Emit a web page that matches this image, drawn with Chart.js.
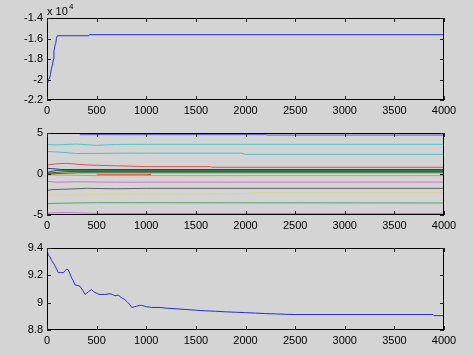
<!DOCTYPE html>
<html>
<head>
<meta charset="utf-8">
<script src="https://cdn.jsdelivr.net/npm/chart.js@4.4.1/dist/chart.umd.min.js"></script>
<style>
html,body{margin:0;padding:0;background:#d4d4d4;width:474px;height:356px;overflow:hidden;}
.box{position:absolute;left:0;width:474px;height:115px;}
</style>
</head>
<body>
<div class="box" style="top:0"><canvas id="c1" width="474" height="115"></canvas></div>
<div class="box" style="top:115px"><canvas id="c2" width="474" height="115"></canvas></div>
<div class="box" style="top:230px"><canvas id="c3" width="474" height="115"></canvas></div>
<script>
// ---- data ----
const xTicks = [0,500,1000,1500,2000,2500,3000,3500,4000];
const p1Ticks = [-2.2,-2.0,-1.8,-1.6,-1.4];
const p2Ticks = [-5,0,5];
const p3Ticks = [8.8,9.0,9.2,9.4];

const p1X = [0,10,25,35,45,55,65,70,80,88,95,105,420,425,4000];
const p1Y = [-2.03,-2.0,-1.99,-1.95,-1.89,-1.86,-1.80,-1.72,-1.67,-1.65,-1.60,-1.573,-1.573,-1.563,-1.563];

const p3X = [0,5,13,30,45,63,80,97,114,140,164,185,198,215,232,249,265,282,310,333,360,383,400,417,435,450,470,484,510,534,580,635,660,685,719,753,780,803,830,854,880,904,930,954,980,1004,1030,1055,1139,1200,1300,1400,1500,1600,1700,1800,1900,2000,2100,2200,2300,2400,2500,3890,3900,4000];
const p3Y = [9.38,9.37,9.35,9.335,9.31,9.29,9.27,9.245,9.22,9.22,9.22,9.235,9.245,9.24,9.21,9.18,9.16,9.13,9.125,9.12,9.09,9.06,9.07,9.08,9.09,9.095,9.08,9.075,9.065,9.06,9.06,9.065,9.06,9.05,9.055,9.035,9.025,9.01,8.99,8.965,8.97,8.975,8.98,8.98,8.975,8.97,8.968,8.965,8.965,8.96,8.955,8.95,8.945,8.94,8.937,8.933,8.93,8.927,8.924,8.92,8.918,8.915,8.913,8.913,8.905,8.905];

// middle panel series: [x, y] pairs
const sNavy    = [[0,4.98],[330,4.98]];
const sBlue    = [[330,4.8],[2200,4.8],[2220,4.75],[4000,4.75]];
const sCyan1   = [[0,3.6],[100,3.55],[300,3.65],[500,3.5],[700,3.6],[1000,3.62],[4000,3.62]];
const sCyan2   = [[0,2.75],[150,2.65],[300,2.5],[1000,2.55],[1950,2.55],[2000,2.4],[4000,2.4]];
const sRed     = [[0,1.1],[100,1.25],[200,1.3],[400,1.1],[700,1.0],[1000,0.9],[1650,0.9],[1660,0.82],[4000,0.82]];
const sPurple  = [[0,0.7],[150,0.55],[4000,0.55]];
const sDkGrn1  = [[0,0.2],[100,0.45],[4000,0.45]];
const sDkGrn2  = [[0,0.1],[200,0.3],[4000,0.3]];
const sDkGrn3  = [[0,0],[300,0.15],[4000,0.15]];
const sLtGrn   = [[0,0],[100,0.1],[500,0.2],[1000,0.2],[4000,0.2]];
const sYellow  = [[0,0.05],[300,0.25],[900,0.25]];
const sOrange  = [[0,-0.1],[500,-0.2],[4000,-0.2]];
const sRed2    = [[500,-0.1],[1000,-0.1],[1050,-0.05]];
const sMag1    = [[0,-0.9],[100,-1.0],[300,-0.95],[700,-1.0],[4000,-0.98]];
const sGray    = [[0,-2.0],[50,-1.9],[200,-1.85],[400,-1.75],[700,-1.8],[1000,-1.75],[4000,-1.75]];
const sKhaki   = [[0,-2.5],[200,-2.6],[500,-2.5],[1000,-2.45],[2000,-2.4],[2050,-2.28],[4000,-2.28]];
const sGreen   = [[0,-3.6],[200,-3.55],[500,-3.5],[4000,-3.54]];
const sMag2    = [[0,-4.75],[200,-4.7],[500,-4.8],[4000,-4.8]];

const p2Series = [sNavy,sBlue,sCyan1,sCyan2,sRed,sPurple,sDkGrn1,sDkGrn2,sDkGrn3,sLtGrn,sYellow,sOrange,sRed2,sMag1,sGray,sKhaki,sGreen,sMag2];
const p2Colors = ['#1a1a90','#5858d0','#48c8cc','#48c0c8','#e05050','#3030b0','#1e5a3c','#2a6a40','#3c7c3c','#70c070','#f0f0b0','#e89040','#e03020','#d070d0','#606060','#d8d890','#50a868','#d070d8'];

// ---- helpers ----
const FONT = {family:'Arial, "Liberation Sans", Helvetica, sans-serif', size:11};
const fmt = v => String(+Number(v).toFixed(2));

const boxPlugin = {
  id:'matlabBox',
  afterDraw(chart, args, opts){
    const {ctx, chartArea:a, scales} = chart;
    ctx.save();
    ctx.strokeStyle = '#000';
    ctx.lineWidth = 1;
    ctx.strokeRect(Math.round(a.left)+0.5, Math.round(a.top)+0.5, Math.round(a.right-a.left)-1, Math.round(a.bottom-a.top)-1);
    ctx.strokeStyle = '#222';
    ctx.beginPath();
    const L = 4;
    scales.x.ticks.forEach(t => {
      const px = Math.round(scales.x.getPixelForValue(t.value))+0.5;
      ctx.moveTo(px, a.bottom); ctx.lineTo(px, a.bottom-L);
      ctx.moveTo(px, a.top); ctx.lineTo(px, a.top+L);
    });
    scales.y.ticks.forEach(t => {
      const py = Math.round(scales.y.getPixelForValue(t.value))+0.5;
      ctx.moveTo(a.left, py); ctx.lineTo(a.left+L, py);
      ctx.moveTo(a.right, py); ctx.lineTo(a.right-L, py);
    });
    ctx.stroke();
    if (opts && opts.exponent) {
      ctx.fillStyle = '#000';
      ctx.font = '11px Arial, "Liberation Sans", sans-serif';
      ctx.textBaseline = 'alphabetic';
      ctx.fillText('x 10', a.left, a.top - 3);
      ctx.font = '8px Arial, "Liberation Sans", sans-serif';
      ctx.fillText(opts.exponent, a.left + 22, a.top - 9);
    }
    ctx.restore();
  }
};

function makeChart(id, datasets, ymin, ymax, yTicks, exponent){
  new Chart(document.getElementById(id), {
    type:'line',
    data:{datasets},
    options:{
      responsive:false, animation:false, events:[],
      layout:{padding:{left:0, right:30, top:18, bottom:0}},
      plugins:{legend:{display:false}, tooltip:{enabled:false}, matlabBox:{exponent}},
      elements:{point:{radius:0}, line:{borderWidth:1, tension:0}},
      scales:{
        x:{type:'linear', min:0, max:4000,
           grid:{display:false, drawTicks:false}, border:{display:false},
           afterBuildTicks: s => { s.ticks = xTicks.map(v=>({value:v})); },
           afterFit: s => { s.height = 15; },
           ticks:{color:'#000', font:FONT, padding:4, maxRotation:0, autoSkip:false, callback: v => String(v)}},
        y:{type:'linear', min:ymin, max:ymax,
           grid:{display:false, drawTicks:false}, border:{display:false},
           afterBuildTicks: s => { s.ticks = yTicks.map(v=>({value:v})); },
           afterFit: s => { s.width = 47; },
           ticks:{color:'#000', font:FONT, padding:4, autoSkip:false, callback: v => fmt(v)}}
      }
    },
    plugins:[boxPlugin]
  });
}

const toPts = (xs, ys) => xs.map((x,i)=>({x, y:ys[i]}));

makeChart('c1', [{data:toPts(p1X,p1Y), borderColor:'#2a2ad8'}], -2.2, -1.4, p1Ticks, '4');
makeChart('c2', p2Series.map((s,i)=>({data:s.map(p=>({x:p[0],y:p[1]})), borderColor:p2Colors[i]})), -5, 5, p2Ticks, null);
makeChart('c3', [{data:toPts(p3X,p3Y), borderColor:'#2a2ad8'}], 8.8, 9.4, p3Ticks, null);
</script>
</body>
</html>
